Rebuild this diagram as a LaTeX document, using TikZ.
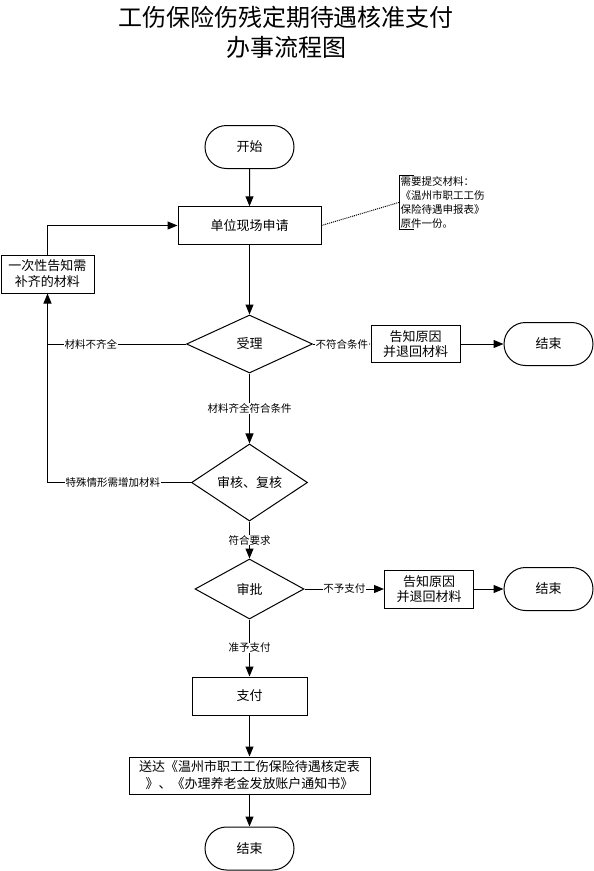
\documentclass[tikz,border=0pt]{standalone}
\usepackage{fontspec}
\setmainfont{Noto Sans CJK SC}
\usetikzlibrary{shapes.geometric,shapes.misc,arrows.meta,calc}
\begin{document}
\begin{tikzpicture}[x=1pt,y=-1pt, line width=1pt,
 box/.style={draw, rectangle, inner sep=0pt, align=center, font=\fontsize{13}{16}\selectfont},
 term/.style={draw, rounded rectangle, minimum width=89pt, minimum height=43pt, inner sep=0pt, font=\fontsize{13}{16}\selectfont},
 dia/.style={draw, diamond, inner sep=0pt, font=\fontsize{13}{16}\selectfont},
 lab/.style={fill=white, inner sep=0.5pt, font=\fontsize{10.5}{12}\selectfont},
 arr/.style={-{Triangle[length=10pt,width=8pt]}}]
\useasboundingbox (0,0) rectangle (594,871);
\node[font=\fontsize{24}{30}\selectfont, align=center] (title) at (286,32) {工伤保险伤残定期待遇核准支付\\办事流程图};
\node[term] (start) at (249.5,147) {开始};
\node[box, minimum width=143pt, minimum height=37.5pt] (apply) at (249.5,225.5) {单位现场申请};
\node[box, minimum width=93pt, minimum height=38pt] (notify) at (47.5,274) {一次性告知需\\补齐的材料};
\node[dia, minimum width=126pt, minimum height=58pt] (accept) at (249.5,344) {受理};
\node[box, minimum width=89pt, minimum height=37pt, font=\fontsize{13}{15}\selectfont] (ret1) at (415.5,344) {告知原因\\并退回材料};
\node[term] (end1) at (548.5,344) {结束};
\node[dia, minimum width=116pt, minimum height=63pt] (review) at (249.5,482.5) {审核、复核};
\node[dia, minimum width=109pt, minimum height=60pt] (approve) at (249.5,589) {审批};
\node[box, minimum width=89pt, minimum height=38pt, font=\fontsize{13}{15}\selectfont] (ret2) at (429,589) {告知原因\\并退回材料};
\node[term] (end2) at (548.5,589) {结束};
\node[box, minimum width=115pt, minimum height=38pt] (pay) at (249.5,696) {支付};
\node[box, minimum width=241pt, minimum height=37pt, font=\fontsize{13}{17}\selectfont] (doc) at (249.5,775.5) {送达《温州市职工工伤保险待遇核定表\\》、《办理养老金发放账户通知书》};
\node[term] (end3) at (249.5,848.5) {结束};
\node[anchor=north west, align=left, inner sep=1pt, font=\fontsize{10.5}{14}\selectfont] (note) at (399,175) {需要提交材料：\\《温州市职工工伤\\保险待遇申报表》\\原件一份。};
\draw ([xshift=15pt]note.north west) -- (note.north west) -- (note.south west) -- ([xshift=15pt]note.south west);
\draw[densely dotted] (apply.east) -- (note.west);
\draw[arr] (start) -- (apply);
\draw[arr] (apply) -- (accept);
\draw[arr] (accept) -- node[lab]{材料齐全符合条件} (review);
\draw[arr] (review) -- node[lab]{符合要求} (approve);
\draw[arr] (approve) -- node[lab]{准予支付} (pay);
\draw[arr] (pay) -- (doc);
\draw[arr] (doc) -- (end3);
\draw[arr] (accept) -- node[lab]{不符合条件} (ret1);
\draw[arr] (ret1) -- (end1);
\draw[arr] (approve) -- node[lab]{不予支付} (ret2);
\draw[arr] (ret2) -- (end2);
\draw (accept.west) -- node[lab,pos=0.687]{材料不齐全} (accept.west -| notify.south);
\draw[arr] (review.west) -- node[lab,pos=0.545]{特殊情形需增加材料} (review.west -| notify.south) -- (notify.south);
\draw[arr] (notify.north) |- (apply.west);
\end{tikzpicture}
\end{document}
